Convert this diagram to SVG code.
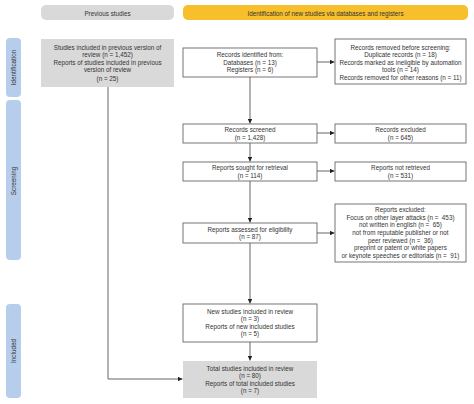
<svg xmlns="http://www.w3.org/2000/svg" width="474" height="404" viewBox="0 0 474 404">
<style>
text{font-family:"Liberation Sans",Arial,sans-serif;font-size:6.3px;fill:#333;text-anchor:middle}
.pre{white-space:pre}
.box{fill:#fff;stroke:#666;stroke-width:0.9}
.gbox{fill:#d9d9d9;stroke:none}
.side{fill:#b6cdec}
.ln{fill:none;stroke:#555;stroke-width:0.9}
</style>
<defs>
<marker id="ah" viewBox="0 0 8 8" refX="8" refY="4" markerWidth="4.5" markerHeight="4.5" orient="auto" markerUnits="userSpaceOnUse">
<path d="M0,0 L8,4 L0,8 z" fill="#222"/>
</marker>
</defs>
<rect width="474" height="404" fill="#fff"/>

<g id="hdr-prev"><rect x="41" y="5" width="133" height="15" rx="5" fill="#d9d9d9"/><text x="107.5" y="15.5">Previous studies</text></g>
<g id="hdr-new"><rect x="183" y="5" width="285" height="15" rx="5" fill="#f7bf2c"/><text x="325.5" y="15.5">Identification of new studies via databases and registers</text></g>

<g id="side-ident"><rect class="side" x="6" y="38" width="15" height="59" rx="4"/><text transform="translate(15.5,67.5) rotate(-90)">Identification</text></g>
<g id="side-screen"><rect class="side" x="6" y="100" width="15" height="160" rx="4"/><text transform="translate(15.5,181) rotate(-90)">Screening</text></g>
<g id="side-incl"><rect class="side" x="6" y="304" width="15" height="94" rx="4"/><text transform="translate(15.5,351) rotate(-90)">Included</text></g>

<g id="connectors">
<path class="ln" d="M108,87 V379 H182.5" marker-end="url(#ah)"/>
<path class="ln" d="M250,77 V123.5" marker-end="url(#ah)"/>
<path class="ln" d="M317,62 H334.5" marker-end="url(#ah)"/>
<path class="ln" d="M250,143 V161.5" marker-end="url(#ah)"/>
<path class="ln" d="M317,133 H334.5" marker-end="url(#ah)"/>
<path class="ln" d="M250,181 V222.5" marker-end="url(#ah)"/>
<path class="ln" d="M317,171 H334.5" marker-end="url(#ah)"/>
<path class="ln" d="M250,243 V303.5" marker-end="url(#ah)"/>
<path class="ln" d="M317,233 H334.5" marker-end="url(#ah)"/>
<path class="ln" d="M250,342 V360.5" marker-end="url(#ah)"/>
</g>

<g id="prev-box"><rect class="gbox" x="41" y="39" width="133" height="48"/>
<text x="107.5" y="49.9">Studies included in previous version of</text>
<text x="107.5" y="57.2">review (n = 1,452)</text>
<text x="107.5" y="64.5">Reports of studies included in previous</text>
<text x="107.5" y="72.2">version of review</text>
<text x="107.5" y="80.5">(n = 25)</text></g>

<g id="identified"><rect class="box" x="183" y="48" width="134" height="29"/>
<text x="250" y="56.5">Records identified from:</text>
<text x="250" y="64.5">Databases (n = 13)</text>
<text x="250" y="72.2">Registers (n = 6)</text></g>

<g id="removed"><rect class="box" x="335" y="39" width="131" height="45"/>
<text x="400.5" y="49.9">Records removed before screening:</text>
<text x="400.5" y="56.5">Duplicate records (n = 18)</text>
<text x="400.5" y="64.5">Records marked as ineligible by automation</text>
<text x="400.5" y="72.2">tools (n = 14)</text>
<text x="400.5" y="79.9">Records removed for other reasons (n = 11)</text></g>

<g id="screened"><rect class="box" x="183" y="124" width="134" height="19"/>
<text x="250" y="132.2">Records screened</text>
<text x="250" y="139.5">(n = 1,428)</text></g>

<g id="excluded"><rect class="box" x="335" y="124" width="131" height="19"/>
<text x="400.5" y="132.2">Records excluded</text>
<text x="400.5" y="139.5">(n = 645)</text></g>

<g id="sought"><rect class="box" x="183" y="162" width="134" height="19"/>
<text x="250" y="169.9">Reports sought for retrieval</text>
<text x="250" y="177.5">(n = 114)</text></g>

<g id="not-retrieved"><rect class="box" x="335" y="162" width="131" height="19"/>
<text x="400.5" y="169.9">Reports not retrieved</text>
<text x="400.5" y="177.5">(n = 531)</text></g>

<g id="assessed"><rect class="box" x="183" y="223" width="134" height="20"/>
<text x="250" y="231.5">Reports assessed for eligibility</text>
<text x="250" y="238.9">(n = 87)</text></g>

<g id="reports-excluded"><rect class="box" x="335" y="204" width="131" height="58"/>
<text x="400.5" y="212.2">Reports excluded:</text>
<text class="pre" x="400.5" y="219.5">Focus on other layer attacks (n =  453)</text>
<text class="pre" x="400.5" y="227.2">not written in english (n =  65)</text>
<text x="400.5" y="234.9">not from reputable publisher or not</text>
<text class="pre" x="400.5" y="242.5">peer reviewed (n =  36)</text>
<text x="400.5" y="250.2">preprint or patent or white papers</text>
<text class="pre" x="400.5" y="257.5">or keynote speeches or editorials (n =  91)</text></g>

<g id="new-included"><rect class="box" x="183" y="304" width="134" height="38"/>
<text x="250" y="313.9">New studies included in review</text>
<text x="250" y="321.2">(n = 3)</text>
<text x="250" y="328.9">Reports of new included studies</text>
<text x="250" y="336.2">(n = 5)</text></g>

<g id="total"><rect class="gbox" x="183" y="361" width="134" height="37"/>
<text x="250" y="370.5">Total studies included in review</text>
<text x="250" y="377.9">(n = 80)</text>
<text x="250" y="385.5">Reports of total included studies</text>
<text x="250" y="392.9">(n = 7)</text></g>
</svg>
